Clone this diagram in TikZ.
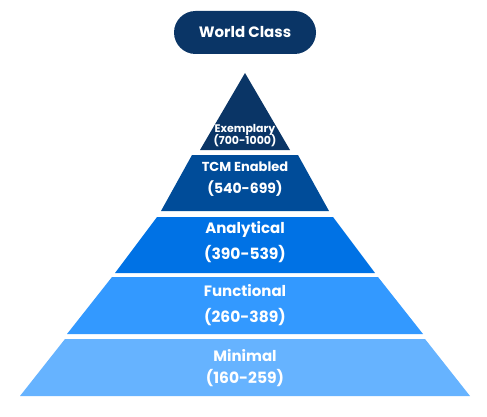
\documentclass[tikz,border=0pt]{standalone}
\usepackage{fontspec}
\setmainfont{Poppins}

\definecolor{navy}{HTML}{0A3566}
\definecolor{deepblue}{HTML}{004C99}
\definecolor{midblue}{HTML}{0072E5}
\definecolor{brightblue}{HTML}{3399FF}
\definecolor{paleblue}{HTML}{66B3FF}

\begin{document}
\begin{tikzpicture}[x=1pt, y=-1pt, every node/.style={text=white, font=\bfseries, inner sep=0pt}]
  \useasboundingbox (0,0) rectangle (487,417);

  % Badge on top
  \node[fill=navy, rounded corners=21.5pt, minimum width=142pt, minimum height=43pt,
        font=\bfseries\fontsize{15}{18}\selectfont] (world) at (245,32.5) {World Class};

  % Pyramid levels, apex first
  \fill[navy] (245,73) -- (290,150) -- (200,150) -- cycle;          % Exemplary
  \fill[deepblue] (192,155) -- (298,155) -- (329,211) -- (161,211) -- cycle; % TCM Enabled
  \fill[midblue] (157,217) -- (333,217) -- (375,273) -- (115,273) -- cycle;  % Analytical
  \fill[brightblue] (112,277) -- (378,277) -- (423,334) -- (67,334) -- cycle; % Functional
  \fill[paleblue] (65,339) -- (425,339) -- (470,396) -- (20,396) -- cycle;   % Minimal

  % Labels of each level
  \node[font=\bfseries\fontsize{11}{11}\selectfont] (exemplary) at (245,130) {Exemplary};
  \node[font=\bfseries\fontsize{11}{11}\selectfont] (exemplaryrange) at (245,141) {(700-1000)};

  \node[font=\bfseries\fontsize{13}{15}\selectfont] (tcm) at (245,167) {TCM Enabled};
  \node[font=\bfseries\fontsize{14}{16}\selectfont] (tcmrange) at (245,189) {(540-699)};

  \node[font=\bfseries\fontsize{15}{18}\selectfont] (analytical) at (245,229) {Analytical};
  \node[font=\bfseries\fontsize{15.5}{18}\selectfont] (analyticalrange) at (245,254) {(390-539)};

  \node[font=\bfseries\fontsize{15}{18}\selectfont] (functional) at (245,291) {Functional};
  \node[font=\bfseries\fontsize{15.5}{18}\selectfont] (functionalrange) at (245,317) {(260-389)};

  \node[font=\bfseries\fontsize{15}{18}\selectfont] (minimal) at (245,356) {Minimal};
  \node[font=\bfseries\fontsize{15.5}{18}\selectfont] (minimalrange) at (245,378) {(160-259)};

\end{tikzpicture}
\end{document}
